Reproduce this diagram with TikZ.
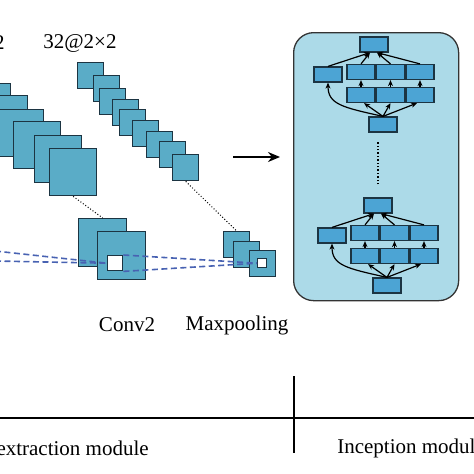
\documentclass[tikz,border=0pt]{standalone}
\usepackage{fontspec}
\setmainfont{Liberation Serif}
\usepackage{tikz}
\usetikzlibrary{arrows}
\usetikzlibrary{arrows.meta}
\usetikzlibrary{positioning}

\definecolor{mapfill}{RGB}{90,172,199}
\definecolor{mapline}{RGB}{28,52,66}
\definecolor{incback}{RGB}{172,218,232}
\definecolor{incfill}{RGB}{76,164,212}
\definecolor{rfblue}{RGB}{72,98,178}

\begin{document}
\begin{tikzpicture}[x=1pt, y=-1pt,
        >=stealth',
        semithick,
        on grid,
        fmap/.style={draw=mapline, fill=mapfill, line width=1.4pt, inner sep=0pt, anchor=north west},
        kernel/.style={draw=mapline, fill=white, line width=1.4pt, inner sep=0pt, anchor=north west},
        ibox/.style={draw=mapline, fill=incfill, line width=1.2pt, minimum width=28pt, minimum height=15pt, inner sep=0pt},
        iarrow/.style={-{Stealth[length=6pt,width=5pt]}, line width=1.2pt},
        rf/.style={rfblue, dash pattern=on 6pt off 3.5pt, line width=1.6pt},
        txt/.style={font=\fontsize{21}{25}\selectfont, inner sep=0pt}]

  \useasboundingbox (0,0) rectangle (474,474);

  % conv feature maps
  \foreach \x/\y [count=\i] in {-37/83, -20/95, -4/109, 13/121, 34/135, 49/148}
    \node[fmap, minimum size=47pt] (conv_\i) at (\x,\y) {};

  % pooled maps
  \foreach \x/\y [count=\i] in {77/62, 93/75, 99/88, 112/99, 119/109, 132/120, 146/131, 159/141, 172/154}
    \node[fmap, minimum size=26pt] (pool_\i) at (\x,\y) {};

  \node[txt, anchor=east] (lbl_conv) at (5,43) {2};
  \node[txt] (lbl_pool) at (80,43) {32@2×2};

  % receptive fields
  \node[fmap, minimum size=48pt] (conv2_a) at (78,218) {};
  \node[fmap, minimum size=48pt] (conv2_b) at (97,231) {};
  \node[kernel, minimum size=15pt] (k_conv) at (107,255) {};

  \node[fmap, minimum size=26pt] (mp_a) at (223,231) {};
  \node[fmap, minimum size=26pt] (mp_b) at (233,241) {};
  \node[fmap, minimum size=26pt] (mp_c) at (249,250) {};
  \node[kernel, minimum size=9pt] (k_pool) at (257,258) {};

  \draw[dotted, line width=1pt] (conv_6.south) -- (conv2_a.north);
  \draw[dotted, line width=1pt] (pool_9.south) -- (mp_a.north);

  \coordinate (rf_1) at (-5,251);
  \coordinate (rf_2) at (-5,261);
  \draw[rf] (rf_1) -- (k_conv.west);
  \draw[rf] (rf_2) -- (k_conv.west);
  \draw[rf] (k_conv.north east) -- (k_pool.west);
  \draw[rf] (k_conv.south east) -- (k_pool.west);

  \node[txt] (lbl_conv2) at (127,325) {Conv2};
  \node[txt] (lbl_mp) at (237,325) {Maxpooling};

  % to the inception part
  \coordinate (go_s) at (233,157);
  \coordinate (go_e) at (280,157);
  \draw[-{Stealth[length=12pt,width=10pt]}, line width=1.5pt] (go_s) -- (go_e);

  \node[draw=black!80, fill=incback, rounded corners=20pt, line width=1.3pt,
        minimum width=165pt, minimum height=268pt, anchor=north west] (incep) at (293,32) {};

  \foreach \blk/\dx/\dy in {a/0/0, b/4/161} {
    \begin{scope}[shift={(\dx,\dy)}]
      \node[ibox] (top_\blk) at (374,44.5) {};
      \node[ibox] (r2a_\blk) at (361,72) {};
      \node[ibox] (r2b_\blk) [right=29.5pt of r2a_\blk] {};
      \node[ibox] (r2c_\blk) [right=29.5pt of r2b_\blk] {};
      \node[ibox] (r3a_\blk) [below=23pt of r2a_\blk] {};
      \node[ibox] (r3b_\blk) [right=29.5pt of r3a_\blk] {};
      \node[ibox] (r3c_\blk) [right=29.5pt of r3b_\blk] {};
      \node[ibox] (lft_\blk) at (328,74.5) {};
      \node[ibox] (bot_\blk) at (383,124.5) {};

      \path[iarrow]
      (bot_\blk.north) edge ([xshift=3pt]r3a_\blk.south)
      (bot_\blk.north) edge (r3b_\blk.south)
      (bot_\blk.north) edge ([xshift=-3pt]r3c_\blk.south)
      (r3a_\blk) edge (r2a_\blk)
      (r3b_\blk) edge (r2b_\blk)
      (r3c_\blk) edge (r2c_\blk)
      (lft_\blk.north) edge ([xshift=-4pt]top_\blk.south)
      (r2a_\blk.north) edge ([xshift=-4pt]top_\blk.south)
      (r2b_\blk.north) edge ([xshift=3pt]top_\blk.south)
      (r2c_\blk.north) edge ([xshift=3pt]top_\blk.south);
      \draw[iarrow] (bot_\blk.north) .. controls +(-40,-9) and +(0,22) .. (lft_\blk.south);
    \end{scope}
  }

  \draw[dotted, line width=1.4pt] ([yshift=13pt]top_b.north) -- ([yshift=55pt]top_b.north);

  % modules
  \coordinate (rule_w) at (0,418);
  \coordinate (rule_e) at (474,418);
  \coordinate (cut_n) at (294,376);
  \coordinate (cut_s) at (294,453);
  \draw[line width=1.2pt] (rule_w) -- (rule_e);
  \draw[line width=1.2pt] (cut_n) -- (cut_s);
  \node[txt, anchor=east] (mod_fe) at (149,448) {extraction module};
  \node[txt, anchor=west] (mod_inc) at (337,448) {Inception module};

\end{tikzpicture}
\end{document}
